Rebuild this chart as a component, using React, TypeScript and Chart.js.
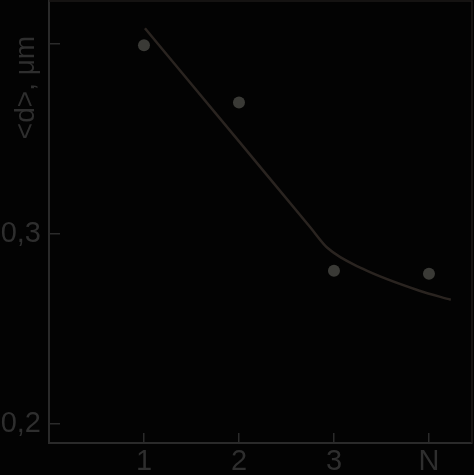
import React, { useEffect, useRef } from "react";
import { Chart, registerables } from "chart.js";

Chart.register(...registerables);

// Categories / tick labels
const xTickValues = [1, 2, 3, 4];
const xTickLabels = ["1", "2", "3", "N"];
const yTickValues = [0.2, 0.3, 0.4];
const yTickLabels = ["0,2", "0,3", ""];

// Measured points
const measuredX = [1, 2, 3, 4];
const measuredD = [0.399, 0.369, 0.2805, 0.279];

// Fitted curve
const fitX = [1.01, 2.0, 2.75, 2.93, 3.3, 3.9, 4.23];
const fitD = [0.408, 0.3485, 0.3034, 0.2926, 0.2816, 0.27, 0.2653];

const yTitle = "<d>, μm";

const BG = "#030303";
const INK = "#2e2e2e";
const AXIS = "#2a2a2a";

const framePlugin = {
  id: "framePlugin",
  beforeDraw(chart: any) {
    const { ctx, width, height } = chart;
    ctx.save();
    ctx.fillStyle = BG;
    ctx.fillRect(0, 0, width, height);
    ctx.restore();
  },
  afterDraw(chart: any) {
    const { ctx, chartArea } = chart;
    ctx.save();
    ctx.strokeStyle = "#1c1a18";
    ctx.lineWidth = 1.5;
    ctx.beginPath();
    ctx.moveTo(chartArea.left, chartArea.top);
    ctx.lineTo(chartArea.right, chartArea.top);
    ctx.lineTo(chartArea.right, chartArea.bottom);
    ctx.stroke();
    // y title
    ctx.fillStyle = INK;
    ctx.font = "28px 'Liberation Sans', Arial, sans-serif";
    ctx.textAlign = "center";
    ctx.textBaseline = "alphabetic";
    ctx.translate(chartArea.left - 15.5, chartArea.top + 86.5);
    ctx.rotate(-Math.PI / 2);
    ctx.fillText(yTitle, 0, 0);
    ctx.restore();
  },
};

export default function App() {
  const ref = useRef<HTMLCanvasElement>(null);

  useEffect(() => {
    document.body.style.margin = "0";
    document.body.style.background = BG;
    const canvas = ref.current!;
    const chart = new Chart(canvas, {
      type: "scatter",
      data: {
        datasets: [
          {
            type: "line",
            data: fitX.map((x, i) => ({ x, y: fitD[i] })),
            borderColor: "#2a2420",
            borderWidth: 2.5,
            pointRadius: 0,
            fill: false,
            cubicInterpolationMode: "monotone",
            order: 2,
          } as any,
          {
            type: "scatter",
            data: measuredX.map((x, i) => ({ x, y: measuredD[i] })),
            backgroundColor: "#3a3a36",
            borderColor: "#3a3a36",
            borderWidth: 0,
            pointRadius: 6,
            order: 1,
          },
        ],
      },
      options: {
        animation: false,
        responsive: false,
        maintainAspectRatio: false,
        layout: { autoPadding: false, padding: { top: 1, right: 2, left: 0, bottom: 0 } },
        plugins: {
          legend: { display: false },
          tooltip: { enabled: false },
        },
        scales: {
          x: {
            type: "linear",
            min: 0,
            max: 4.453,
            afterBuildTicks: (s: any) => {
              s.ticks = xTickValues.map((v) => ({ value: v }));
            },
            afterFit: (s: any) => {
              s.height = 32;
              s.paddingLeft = 0;
              s.paddingRight = 0;
              s.paddingTop = 0;
              s.paddingBottom = 0;
            },
            ticks: {
              color: INK,
              font: { size: 29, family: "'Liberation Sans', Arial, sans-serif" },
              padding: 12,
              maxRotation: 0,
              autoSkip: false,
              callback: (v: any) => {
                const i = xTickValues.indexOf(Number(v));
                return i >= 0 ? xTickLabels[i] : "";
              },
            },
            grid: {
              display: true,
              drawOnChartArea: false,
              drawTicks: true,
              tickLength: -10,
              color: AXIS,
              lineWidth: 1.5,
            },
            border: { display: true, color: AXIS, width: 2 },
          },
          y: {
            type: "linear",
            min: 0.19,
            max: 0.4223,
            afterBuildTicks: (s: any) => {
              s.ticks = yTickValues.map((v) => ({ value: v }));
            },
            afterFit: (s: any) => {
              s.width = 49;
              s.paddingLeft = 0;
              s.paddingRight = 0;
              s.paddingTop = 0;
              s.paddingBottom = 0;
            },
            ticks: {
              color: INK,
              font: { size: 29, family: "'Liberation Sans', Arial, sans-serif" },
              padding: 19,
              autoSkip: false,
              callback: (v: any) => {
                const i = yTickValues.findIndex((t) => Math.abs(t - Number(v)) < 1e-6);
                return i >= 0 ? yTickLabels[i] : "";
              },
            },
            grid: {
              display: true,
              drawOnChartArea: false,
              drawTicks: true,
              tickLength: -11,
              color: AXIS,
              lineWidth: 1.5,
            },
            border: { display: true, color: AXIS, width: 2 },
          },
        },
      },
      plugins: [framePlugin],
    });
    return () => chart.destroy();
  }, []);

  return (
    <div style={{ position: "absolute", left: 0, top: 0, width: 474, height: 475, background: BG }}>
      <canvas ref={ref} width={474} height={475} style={{ width: 474, height: 475, display: "block" }} />
    </div>
  );
}
